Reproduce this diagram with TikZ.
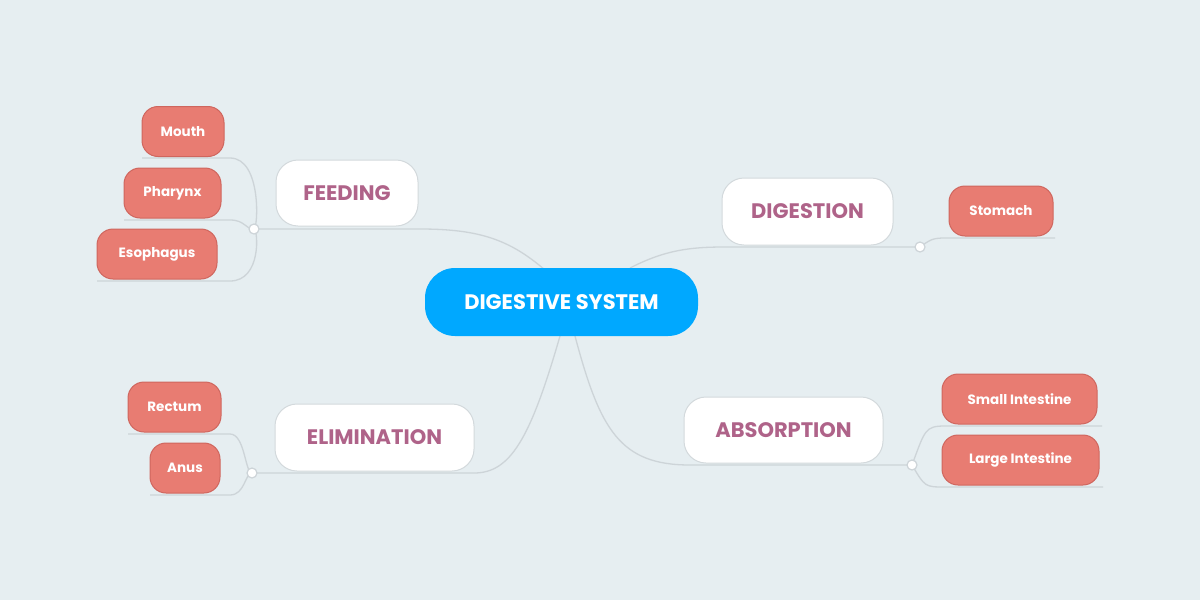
\documentclass[tikz,border=0pt]{standalone}
\usepackage{fontspec}
\setmainfont{Poppins}
\begin{document}
\begin{tikzpicture}[x=1pt,y=-1pt,
 conn/.style={draw=lineg,line width=1.3pt},
 topic/.style={draw=topb,fill=white,line width=1pt,rounded corners=22pt,text=mauve,font=\fontsize{21}{24}\selectfont\bfseries,inner sep=0pt},
 leaf/.style={draw=leafb,fill=leaf,line width=1pt,rounded corners=16pt,text=white,font=\fontsize{13.5}{16}\selectfont\bfseries,inner sep=0pt,minimum height=50pt},
 dot/.style={circle,draw=lineg,fill=white,line width=1.2pt,minimum size=10pt,inner sep=0pt}]
\definecolor{bg}{HTML}{E6EEF1}
\definecolor{lineg}{HTML}{CDD4D8}
\definecolor{topb}{HTML}{D3D9DC}
\definecolor{mauve}{HTML}{AF6389}
\definecolor{leaf}{HTML}{E87C72}
\definecolor{leafb}{HTML}{CF665E}
\definecolor{cen}{HTML}{00A8FF}
\fill[bg] (0,0) rectangle (1200,600);
\useasboundingbox (0,0) rectangle (1200,600);
% connectors (drawn first)
\coordinate (fd) at (254,229);
\coordinate (dd) at (920,247);
\coordinate (ad) at (912,465);
\coordinate (ed) at (252,473);
\draw[conn] (545,270) .. controls (510,240) and (480,229) .. (420,229) -- (fd);
\draw[conn] (630,268) .. controls (665,250) and (690,247) .. (725,247) -- (dd);
\draw[conn] (575,336) .. controls (600,430) and (620,465) .. (690,465) -- (ad);
\draw[conn] (560,336) .. controls (530,440) and (510,473) .. (474,473) -- (ed);
% leaves lines
\draw[conn] (142,158) -- (230,158) .. controls (262,158) and (258,229) .. (fd);
\draw[conn] (124,220) -- (230,220) .. controls (245,220) and (245,229) .. (fd);
\draw[conn] (97,281) -- (230,281) .. controls (262,281) and (258,229) .. (fd);
\draw[conn] (dd) .. controls (930,240) and (932,238) .. (945,238) -- (1055,238);
\draw[conn] (ad) .. controls (925,430) and (925,426) .. (945,426) -- (1102,426);
\draw[conn] (ad) .. controls (925,487) and (925,487) .. (945,487) -- (1103,487);
\draw[conn] (128,434) -- (230,434) .. controls (245,434) and (245,473) .. (ed);
\draw[conn] (150,495) -- (230,495) .. controls (245,495) and (245,473) .. (ed);
\node[dot] at (fd) {};
\node[dot] at (dd) {};
\node[dot] at (ad) {};
\node[dot] at (ed) {};
% nodes
\node[fill=cen,rounded corners=30pt,minimum width=273pt,minimum height=68pt,text=white,font=\fontsize{21}{24}\selectfont\bfseries,inner sep=0pt] (c) at (561.5,302) {DIGESTIVE SYSTEM};
\node[topic,minimum width=142pt,minimum height=66pt] (feed) at (347,193) {FEEDING};
\node[topic,minimum width=171pt,minimum height=67pt] (dig) at (807.5,211.5) {DIGESTION};
\node[topic,minimum width=199pt,minimum height=66pt] (abs) at (783.5,430) {ABSORPTION};
\node[topic,minimum width=199pt,minimum height=67pt] (eli) at (374.5,437.5) {ELIMINATION};
\node[leaf,minimum width=82pt] (m) at (183,131.5) {Mouth};
\node[leaf,minimum width=97pt] (p) at (172.5,193) {Pharynx};
\node[leaf,minimum width=120pt] (e) at (157,254) {Esophagus};
\node[leaf,minimum width=104pt] (s) at (1001,211) {Stomach};
\node[leaf,minimum width=155pt] (si) at (1019.5,399) {Small Intestine};
\node[leaf,minimum width=157pt] (li) at (1020.5,460) {Large Intestine};
\node[leaf,minimum width=93pt] (r) at (174.5,407) {Rectum};
\node[leaf,minimum width=70pt] (a) at (185,468) {Anus};
\end{tikzpicture}
\end{document}
